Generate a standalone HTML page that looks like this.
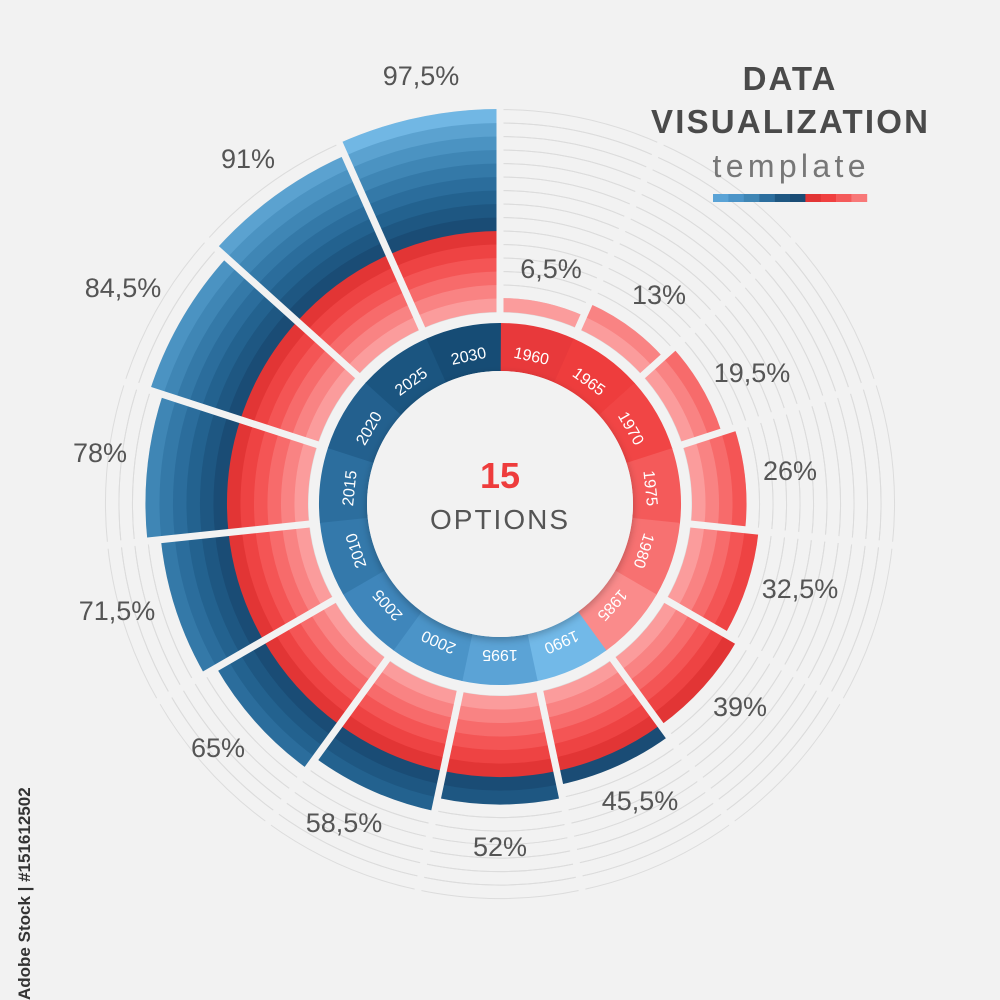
<!DOCTYPE html>
<html><head><meta charset="utf-8"><style>
html,body{margin:0;padding:0;background:#f2f2f2;}
svg{display:block;}
.pct{font-family:"Liberation Sans Narrow","Liberation Sans",sans-serif;font-size:27px;fill:#555;text-anchor:middle;}
.yr{font-family:"Liberation Sans Narrow","Liberation Sans",sans-serif;font-size:16px;fill:#fff;text-anchor:middle;}
</style></head><body>
<svg id="s" width="1000" height="1000" viewBox="0 0 1000 1000" xmlns="http://www.w3.org/2000/svg">
<defs><filter id="sh" x="-20%" y="-20%" width="140%" height="140%"><feDropShadow dx="0" dy="3" stdDeviation="4" flood-color="#000" flood-opacity="0.25"/></filter></defs>
<rect width="1000" height="1000" fill="#f2f2f2"/>
<g id="grid"></g>
<g id="bars"></g>
<g id="ring"></g>
<g id="gaps"></g>
<circle cx="500" cy="504" r="133" fill="#f2f2f2" filter="url(#sh)"/>
<text x="500" y="488" text-anchor="middle" font-family="Liberation Sans" font-weight="bold" font-size="36" fill="#ee3c3c">15</text>
<text x="500" y="529" text-anchor="middle" font-family="Liberation Sans" font-size="28" letter-spacing="2" fill="#555">OPTIONS</text>
<g>
<text class="yr" x="500" y="358" transform="rotate(12 500 504)">1960</text>
<text class="yr" x="500" y="358" transform="rotate(36 500 504)">1965</text>
<text class="yr" x="500" y="358" transform="rotate(60 500 504)">1970</text>
<text class="yr" x="500" y="358" transform="rotate(84 500 504)">1975</text>
<text class="yr" x="500" y="358" transform="rotate(108 500 504)">1980</text>
<text class="yr" x="500" y="358" transform="rotate(132 500 504)">1985</text>
<text class="yr" x="500" y="358" transform="rotate(156 500 504)">1990</text>
<text class="yr" x="500" y="358" transform="rotate(180 500 504)">1995</text>
<text class="yr" x="500" y="358" transform="rotate(204 500 504)">2000</text>
<text class="yr" x="500" y="358" transform="rotate(228 500 504)">2005</text>
<text class="yr" x="500" y="358" transform="rotate(252 500 504)">2010</text>
<text class="yr" x="500" y="358" transform="rotate(276 500 504)">2015</text>
<text class="yr" x="500" y="358" transform="rotate(300 500 504)">2020</text>
<text class="yr" x="500" y="358" transform="rotate(324 500 504)">2025</text>
<text class="yr" x="500" y="358" transform="rotate(348 500 504)">2030</text>
</g>
<g>
<text class="pct" x="551" y="278">6,5%</text>
<text class="pct" x="659" y="304">13%</text>
<text class="pct" x="752" y="382">19,5%</text>
<text class="pct" x="790" y="480">26%</text>
<text class="pct" x="800" y="598">32,5%</text>
<text class="pct" x="740" y="716">39%</text>
<text class="pct" x="640" y="810">45,5%</text>
<text class="pct" x="500" y="856">52%</text>
<text class="pct" x="344" y="832">58,5%</text>
<text class="pct" x="218" y="757">65%</text>
<text class="pct" x="117" y="620">71,5%</text>
<text class="pct" x="100" y="462">78%</text>
<text class="pct" x="123" y="297">84,5%</text>
<text class="pct" x="248" y="168">91%</text>
<text class="pct" x="421" y="85">97,5%</text>
</g>
<text x="790" y="90" text-anchor="middle" font-family="Liberation Sans" font-weight="bold" font-size="33" letter-spacing="2" fill="#4a4a4a">DATA</text>
<text x="790" y="133" text-anchor="middle" font-family="Liberation Sans" font-weight="bold" font-size="33" letter-spacing="1" fill="#4a4a4a" textLength="278">VISUALIZATION</text>
<text x="790" y="177" text-anchor="middle" font-family="Liberation Sans" font-size="32" letter-spacing="2" fill="#777" textLength="155">template</text>
<g id="cb"></g>
<text transform="translate(30,1000) rotate(-90)" font-family="Liberation Sans" font-weight="bold" font-size="17" fill="#333">Adobe Stock | #151612502</text>
</svg>
<script>
var NS="http://www.w3.org/2000/svg",cx=500,cy=504;
function P(r,a){a=a*Math.PI/180;return [cx+r*Math.sin(a),cy-r*Math.cos(a)];}
function sector(r0,r1,a0,a1,fill,g,stroke){
 var p1=P(r1,a0),p2=P(r1,a1),p3=P(r0,a1),p4=P(r0,a0),l=(a1-a0>180)?1:0;
 var d="M"+p1+"A"+r1+","+r1+" 0 "+l+" 1 "+p2+"L"+p3+"A"+r0+","+r0+" 0 "+l+" 0 "+p4+"Z";
 var e=document.createElementNS(NS,"path");e.setAttribute("d",d);
 e.setAttribute("fill",fill);if(stroke){e.setAttribute("stroke",stroke);e.setAttribute("stroke-width","1");}
 document.getElementById(g).appendChild(e);}
var R0=192,W=13.5;
var red=["#fb9c9c","#f98383","#f76b6b","#f45555","#ee4343","#e23535"];
var blue=["#1a4c75","#1e5782","#23628f","#2b6d9c","#3479a8","#3f86b5","#4b93c2","#5ba2d0","#71b7e4"];
var inner=["#e8393b","#ee3d3d","#f14545","#f45a5a","#f77171","#fa8b8b","#72b9e8","#5ba3d6","#4b94c8","#3f86bb","#3479ab","#2c6e9e","#23608e","#1b5580","#164c75"];
for(var i=0;i<15;i++){
 var a0=i*24,a1=a0+24;
 for(var k=0;k<15;k++) sector(R0+k*W,R0+(k+1)*W,a0,a1,"none","grid","#dcdcdc");
 for(var k=0;k<=i;k++) sector(R0+k*W,R0+(k+1)*W+0.5,a0,a1,k<6?red[k]:blue[k-6],"bars");
 sector(133,181,a0,a1+0.3,inner[i],"ring");
 var a=P(183,a0),b=P(402,a0),ln=document.createElementNS(NS,"line");
 ln.setAttribute("x1",a[0]);ln.setAttribute("y1",a[1]);ln.setAttribute("x2",b[0]);ln.setAttribute("y2",b[1]);
 ln.setAttribute("stroke","#f2f2f2");ln.setAttribute("stroke-width","7");document.getElementById("gaps").appendChild(ln);
}
var cbc=["#5aa3d6","#4b94c8","#3f86b5","#2c6e9e","#1e5782","#1a4c75","#e23535","#f04040","#f45a5a","#f87878"];
for(var j=0;j<10;j++){var r=document.createElementNS(NS,"rect");r.setAttribute("x",713+j*15.4);r.setAttribute("y",194);r.setAttribute("width",15.6);r.setAttribute("height",8);r.setAttribute("fill",cbc[j]);document.getElementById("cb").appendChild(r);}
</script>
</body></html>
